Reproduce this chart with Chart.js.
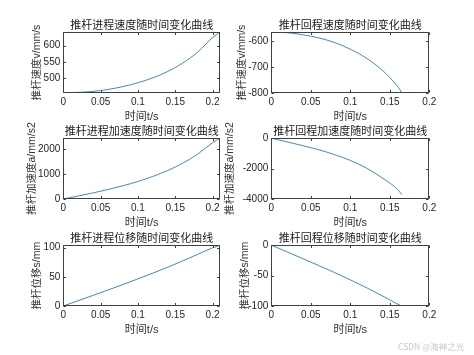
<!DOCTYPE html>
<html><head><meta charset="utf-8">
<script src="https://cdn.jsdelivr.net/npm/chart.js@4"></script>
<style>
html,body{margin:0;padding:0;background:#fff;}
#wrap{position:relative;width:474px;height:355px;overflow:hidden;background:#fff;}
canvas{position:absolute;}
#wm{position:absolute;left:398px;top:340px;font:8.5px "Noto Sans CJK SC",sans-serif;color:#c6c6c6;white-space:nowrap;}
</style></head><body>
<div id="wrap">
<canvas id="c1" width="237" height="125" style="left:0;top:0;width:237px;height:125px"></canvas>
<canvas id="c2" width="259" height="125" style="left:215px;top:0;width:259px;height:125px"></canvas>
<canvas id="c3" width="237" height="125" style="left:0;top:106px;width:237px;height:125px"></canvas>
<canvas id="c4" width="259" height="125" style="left:215px;top:106px;width:259px;height:125px"></canvas>
<canvas id="c5" width="237" height="125" style="left:0;top:213px;width:237px;height:125px"></canvas>
<canvas id="c6" width="259" height="125" style="left:215px;top:213px;width:259px;height:125px"></canvas>
<div id="wm">CSDN @海神之光</div>
</div>
<script>
// ---- data ----
const tGo   = [0, 0.02, 0.04, 0.06, 0.08, 0.10, 0.12, 0.14, 0.16, 0.18, 0.20, 0.21];
const vGo   = [453, 455, 458, 464, 473, 485, 500, 520, 546, 580, 625, 642];
const aGo   = [0, 120, 245, 380, 530, 700, 900, 1140, 1430, 1790, 2250, 2430];
const sGo   = [0, 9.1, 18.2, 27.4, 36.8, 46.4, 56.2, 66.4, 77.1, 88.3, 99.5, 104];
const tBack = [0, 0.02, 0.04, 0.06, 0.08, 0.10, 0.12, 0.14, 0.15, 0.16, 0.165];
const vBack = [-564, -566, -574, -586, -604, -630, -664, -710, -740, -775, -798];
const aBack = [0, -240, -495, -760, -1080, -1460, -1950, -2600, -2950, -3380, -3700];
const sBack = [0, -11, -22.2, -33.4, -45, -57, -69.5, -83, -90, -97, -100];

const xTicks = [0, 0.05, 0.1, 0.15, 0.2];
const yTicksV1 = [500, 550, 600];
const yTicksV2 = [-800, -700, -600];
const yTicksA1 = [0, 1000, 2000];
const yTicksA2 = [-4000, -2000, 0];
const yTicksS1 = [0, 50, 100];
const yTicksS2 = [-100, -50, 0];

const titles = ['推杆进程速度随时间变化曲线','推杆回程速度随时间变化曲线','推杆进程加速度随时间变化曲线','推杆回程加速度随时间变化曲线','推杆进程位移随时间变化曲线','推杆回程位移随时间变化曲线'];
const yLabels = ['推杆速度v/mm/s','推杆速度v/mm/s','推杆加速度a/mm/s2','推杆加速度a/mm/s2','推杆位移s/mm','推杆位移s/mm'];
const xLabel = '时间t/s';

// ---- drawing ----
const LAT = '"Liberation Sans", Arial, sans-serif';
const CJK = '"Noto Sans CJK SC", sans-serif';
const MIX = '"Liberation Sans", "Noto Sans CJK SC", sans-serif';
const LINE = '#3f8bb8';
const AX = '#404040';

const boxPlugin = {
  id: 'box',
  afterDraw(chart) {
    const {ctx, chartArea: a, scales} = chart;
    ctx.save();
    ctx.strokeStyle = AX; ctx.lineWidth = 1;
    const l = Math.round(a.left) + 0.5, t = Math.round(a.top) + 0.5;
    const r = Math.round(a.right) - 0.5, b = Math.round(a.bottom) - 0.5;
    ctx.strokeRect(l, t, r - l, b - t);
    const L = 2.5;
    ctx.beginPath();
    scales.x.ticks.forEach(tk => {
      const px = Math.round(scales.x.getPixelForValue(tk.value)) + 0.5;
      ctx.moveTo(px, b); ctx.lineTo(px, b - L);
      ctx.moveTo(px, t); ctx.lineTo(px, t + L);
    });
    scales.y.ticks.forEach(tk => {
      const py = Math.round(scales.y.getPixelForValue(tk.value)) + 0.5;
      ctx.moveTo(l, py); ctx.lineTo(l + L, py);
      ctx.moveTo(r, py); ctx.lineTo(r - L, py);
    });
    ctx.stroke();
    ctx.restore();
  }
};

function make(id, idx, ts, vs, xMax, yMin, yMax, yTicks, left, yLabPad, rightPad) {
  const pts = ts.map((t, i) => ({x: t, y: vs[i]}));
  new Chart(document.getElementById(id), {
    type: 'line',
    data: {datasets: [{data: pts, borderColor: LINE, borderWidth: 1, pointRadius: 0, cubicInterpolationMode: 'monotone', fill: false}]},
    options: {
      responsive: false, animation: false,
      layout: {padding: {left: 0, right: rightPad, top: 0, bottom: 0}},
      plugins: {
        legend: {display: false}, tooltip: {enabled: false},
        title: {display: true, text: titles[idx], fullSize: false, color: '#1a1a1a',
          font: {family: CJK, size: 11, weight: 'normal', lineHeight: 1.2}, padding: {top: 18, bottom: 1}}
      },
      scales: {
        x: {type: 'linear', min: 0, max: xMax,
          grid: {display: false, drawTicks: false}, border: {display: false},
          afterBuildTicks(s) { s.ticks = xTicks.map(v => ({value: v})); },
          afterFit(s) { s.height = 32; },
          ticks: {autoSkip: false, maxRotation: 0, padding: 3.5, color: '#262626',
            font: {family: LAT, size: 10}, callback: v => String(v)},
          title: {display: true, text: xLabel, color: '#333', font: {family: MIX, size: 11, lineHeight: 1.2}, padding: {top: 0, bottom: 1.9}}
        },
        y: {type: 'linear', min: yMin, max: yMax,
          grid: {display: false, drawTicks: false}, border: {display: false},
          afterBuildTicks(s) { s.ticks = yTicks.map(v => ({value: v})); },
          afterFit(s) { s.width = left; },
          ticks: {autoSkip: false, padding: 3, color: '#262626',
            font: {family: LAT, size: 10}, callback: v => String(v)},
          title: {display: true, text: yLabels[idx], color: '#333', font: {family: MIX, size: 10.5, lineHeight: 1.2}, padding: {top: yLabPad, bottom: 0}}
        }
      }
    },
    plugins: [boxPlugin]
  });
}

make('c1', 0, tGo, vGo, 0.21, 453, 642, yTicksV1, 63.3, 30.7, 17);
make('c2', 1, tBack, vBack, 0.2, -800, -564, yTicksV2, 56.3, 20.7, 44.7);
make('c3', 2, tGo, aGo, 0.21, 0, 2430, yTicksA1, 63.3, 25.7, 17);
make('c4', 3, tBack, aBack, 0.2, -4000, 0, yTicksA2, 56.3, 8.7, 44.7);
make('c5', 4, tGo, sGo, 0.21, 0, 104, yTicksS1, 63.3, 30.7, 17);
make('c6', 5, tBack, sBack, 0.2, -100, 0, yTicksS2, 56.3, 23.7, 44.7);
</script>
</body></html>
